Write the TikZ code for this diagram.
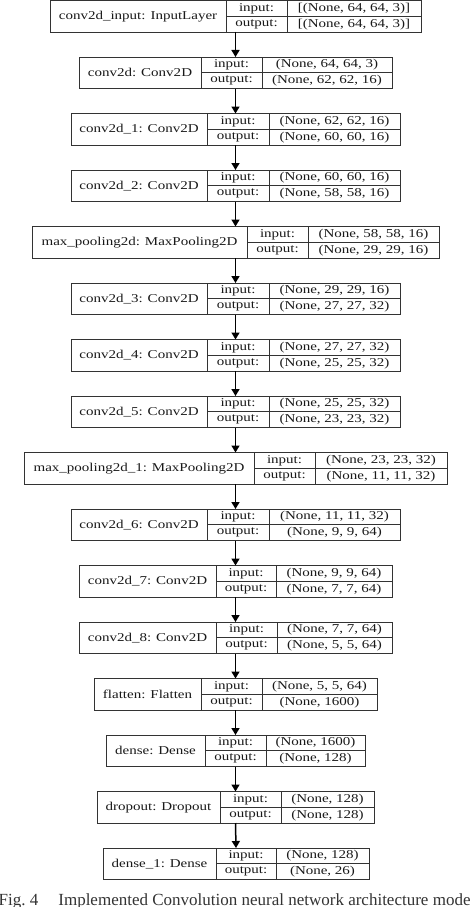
\documentclass[tikz,border=0pt]{standalone}
\usepackage{fontspec}
\setmainfont{Liberation Serif}
\usepackage{graphicx}
\usetikzlibrary{arrows.meta}
\usetikzlibrary{positioning}
\usetikzlibrary{fit}
\newcommand{\shrinktext}[1]{\scalebox{1}[0.8]{#1}}
% one layer: id, x, y, name width, label width, shape width, name, input, output
\newcommand{\layer}[9]{%
  \node(#1-n)[namecell,minimum width=#4pt,anchor=north west] at (#2,#3) {\shrinktext{#7}};
  \node(#1-il)[rowcell,minimum width=#5pt,anchor=north west] at (#1-n.north east) {\shrinktext{input:}};
  \node(#1-ol)[rowcell,minimum width=#5pt,anchor=north west] at (#1-il.south west) {\shrinktext{output:}};
  \node(#1-iv)[rowcell,minimum width=#6pt,anchor=north west] at (#1-il.north east) {\shrinktext{#8}};
  \node(#1-ov)[rowcell,minimum width=#6pt,anchor=north west] at (#1-ol.north east) {\shrinktext{#9}};
  \node(#1)[fit=(#1-n)(#1-ov),inner sep=0pt,outer sep=0pt]{};
}

\begin{document}
\begin{tikzpicture}[
        x=1pt, y=-1pt,
        every node/.style={font=\fontsize{15}{15}\selectfont, text=black!90},
        cell/.style={rectangle,draw=black!80,line width=0.9pt,inner sep=0pt,outer sep=0pt},
        namecell/.style={cell,minimum height=31.5pt},
        rowcell/.style={cell,minimum height=15.75pt},
        flow/.style={-{Triangle[width=8pt,length=7pt]},line width=1.5pt,draw=black}
      ]
      \useasboundingbox (0,0) rectangle (474,907);
      \clip (0,0) rectangle (474,907);

      \layer{input}{50}{0.5}{176}{61}{134}{conv2d\_input: InputLayer}{[(None, 64, 64, 3)]}{[(None, 64, 64, 3)]}
      \layer{conv0}{79}{57}{122}{61}{130}{conv2d: Conv2D}{(None, 64, 64, 3)}{(None, 62, 62, 16)}
      \layer{conv1}{71}{113.5}{136}{62}{131}{conv2d\_1: Conv2D}{(None, 62, 62, 16)}{(None, 60, 60, 16)}
      \layer{conv2}{71}{170}{136}{62}{131}{conv2d\_2: Conv2D}{(None, 60, 60, 16)}{(None, 58, 58, 16)}
      \layer{pool0}{32}{226.5}{215}{61}{131}{max\_pooling2d: MaxPooling2D}{(None, 58, 58, 16)}{(None, 29, 29, 16)}
      \layer{conv3}{71}{283}{136}{62}{131}{conv2d\_3: Conv2D}{(None, 29, 29, 16)}{(None, 27, 27, 32)}
      \layer{conv4}{71}{339.5}{136}{62}{131}{conv2d\_4: Conv2D}{(None, 27, 27, 32)}{(None, 25, 25, 32)}
      \layer{conv5}{71}{396}{136}{62}{131}{conv2d\_5: Conv2D}{(None, 25, 25, 32)}{(None, 23, 23, 32)}
      \layer{pool1}{24}{452.5}{230}{61}{132}{max\_pooling2d\_1: MaxPooling2D}{(None, 23, 23, 32)}{(None, 11, 11, 32)}
      \layer{conv6}{71}{509}{136}{62}{131}{conv2d\_6: Conv2D}{(None, 11, 11, 32)}{(None, 9, 9, 64)}
      \layer{conv7}{79}{565.5}{137}{60}{116}{conv2d\_7: Conv2D}{(None, 9, 9, 64)}{(None, 7, 7, 64)}
      \layer{conv8}{79}{622}{137}{61}{115}{conv2d\_8: Conv2D}{(None, 7, 7, 64)}{(None, 5, 5, 64)}
      \layer{flatten}{94}{678.5}{107}{61}{115}{flatten: Flatten}{(None, 5, 5, 64)}{(None, 1600)}
      \layer{dense0}{106}{735}{99}{61}{99}{dense: Dense}{(None, 1600)}{(None, 128)}
      \layer{dropout}{97}{791.5}{123}{61}{93}{dropout: Dropout}{(None, 128)}{(None, 128)}
      \layer{dense1}{103}{848}{113}{60}{93}{dense\_1: Dense}{(None, 128)}{(None, 26)}

      \foreach \a/\b in {input/conv0, conv0/conv1, conv1/conv2, conv2/pool0, pool0/conv3,
                         conv3/conv4, conv4/conv5, conv5/pool1, pool1/conv6, conv6/conv7,
                         conv7/conv8, conv8/flatten, flatten/dense0, dense0/dropout, dropout/dense1}
        \draw[flow] (\a.south) -- (\b.north);

      \node(caption)[anchor=base west,inner sep=0pt,font=\fontsize{17}{17}\selectfont,text=black!80]
        at (-1.5,905) {Fig.~4\hspace{20pt}Implemented Convolution neural network architecture mode};
    \end{tikzpicture}
\end{document}
